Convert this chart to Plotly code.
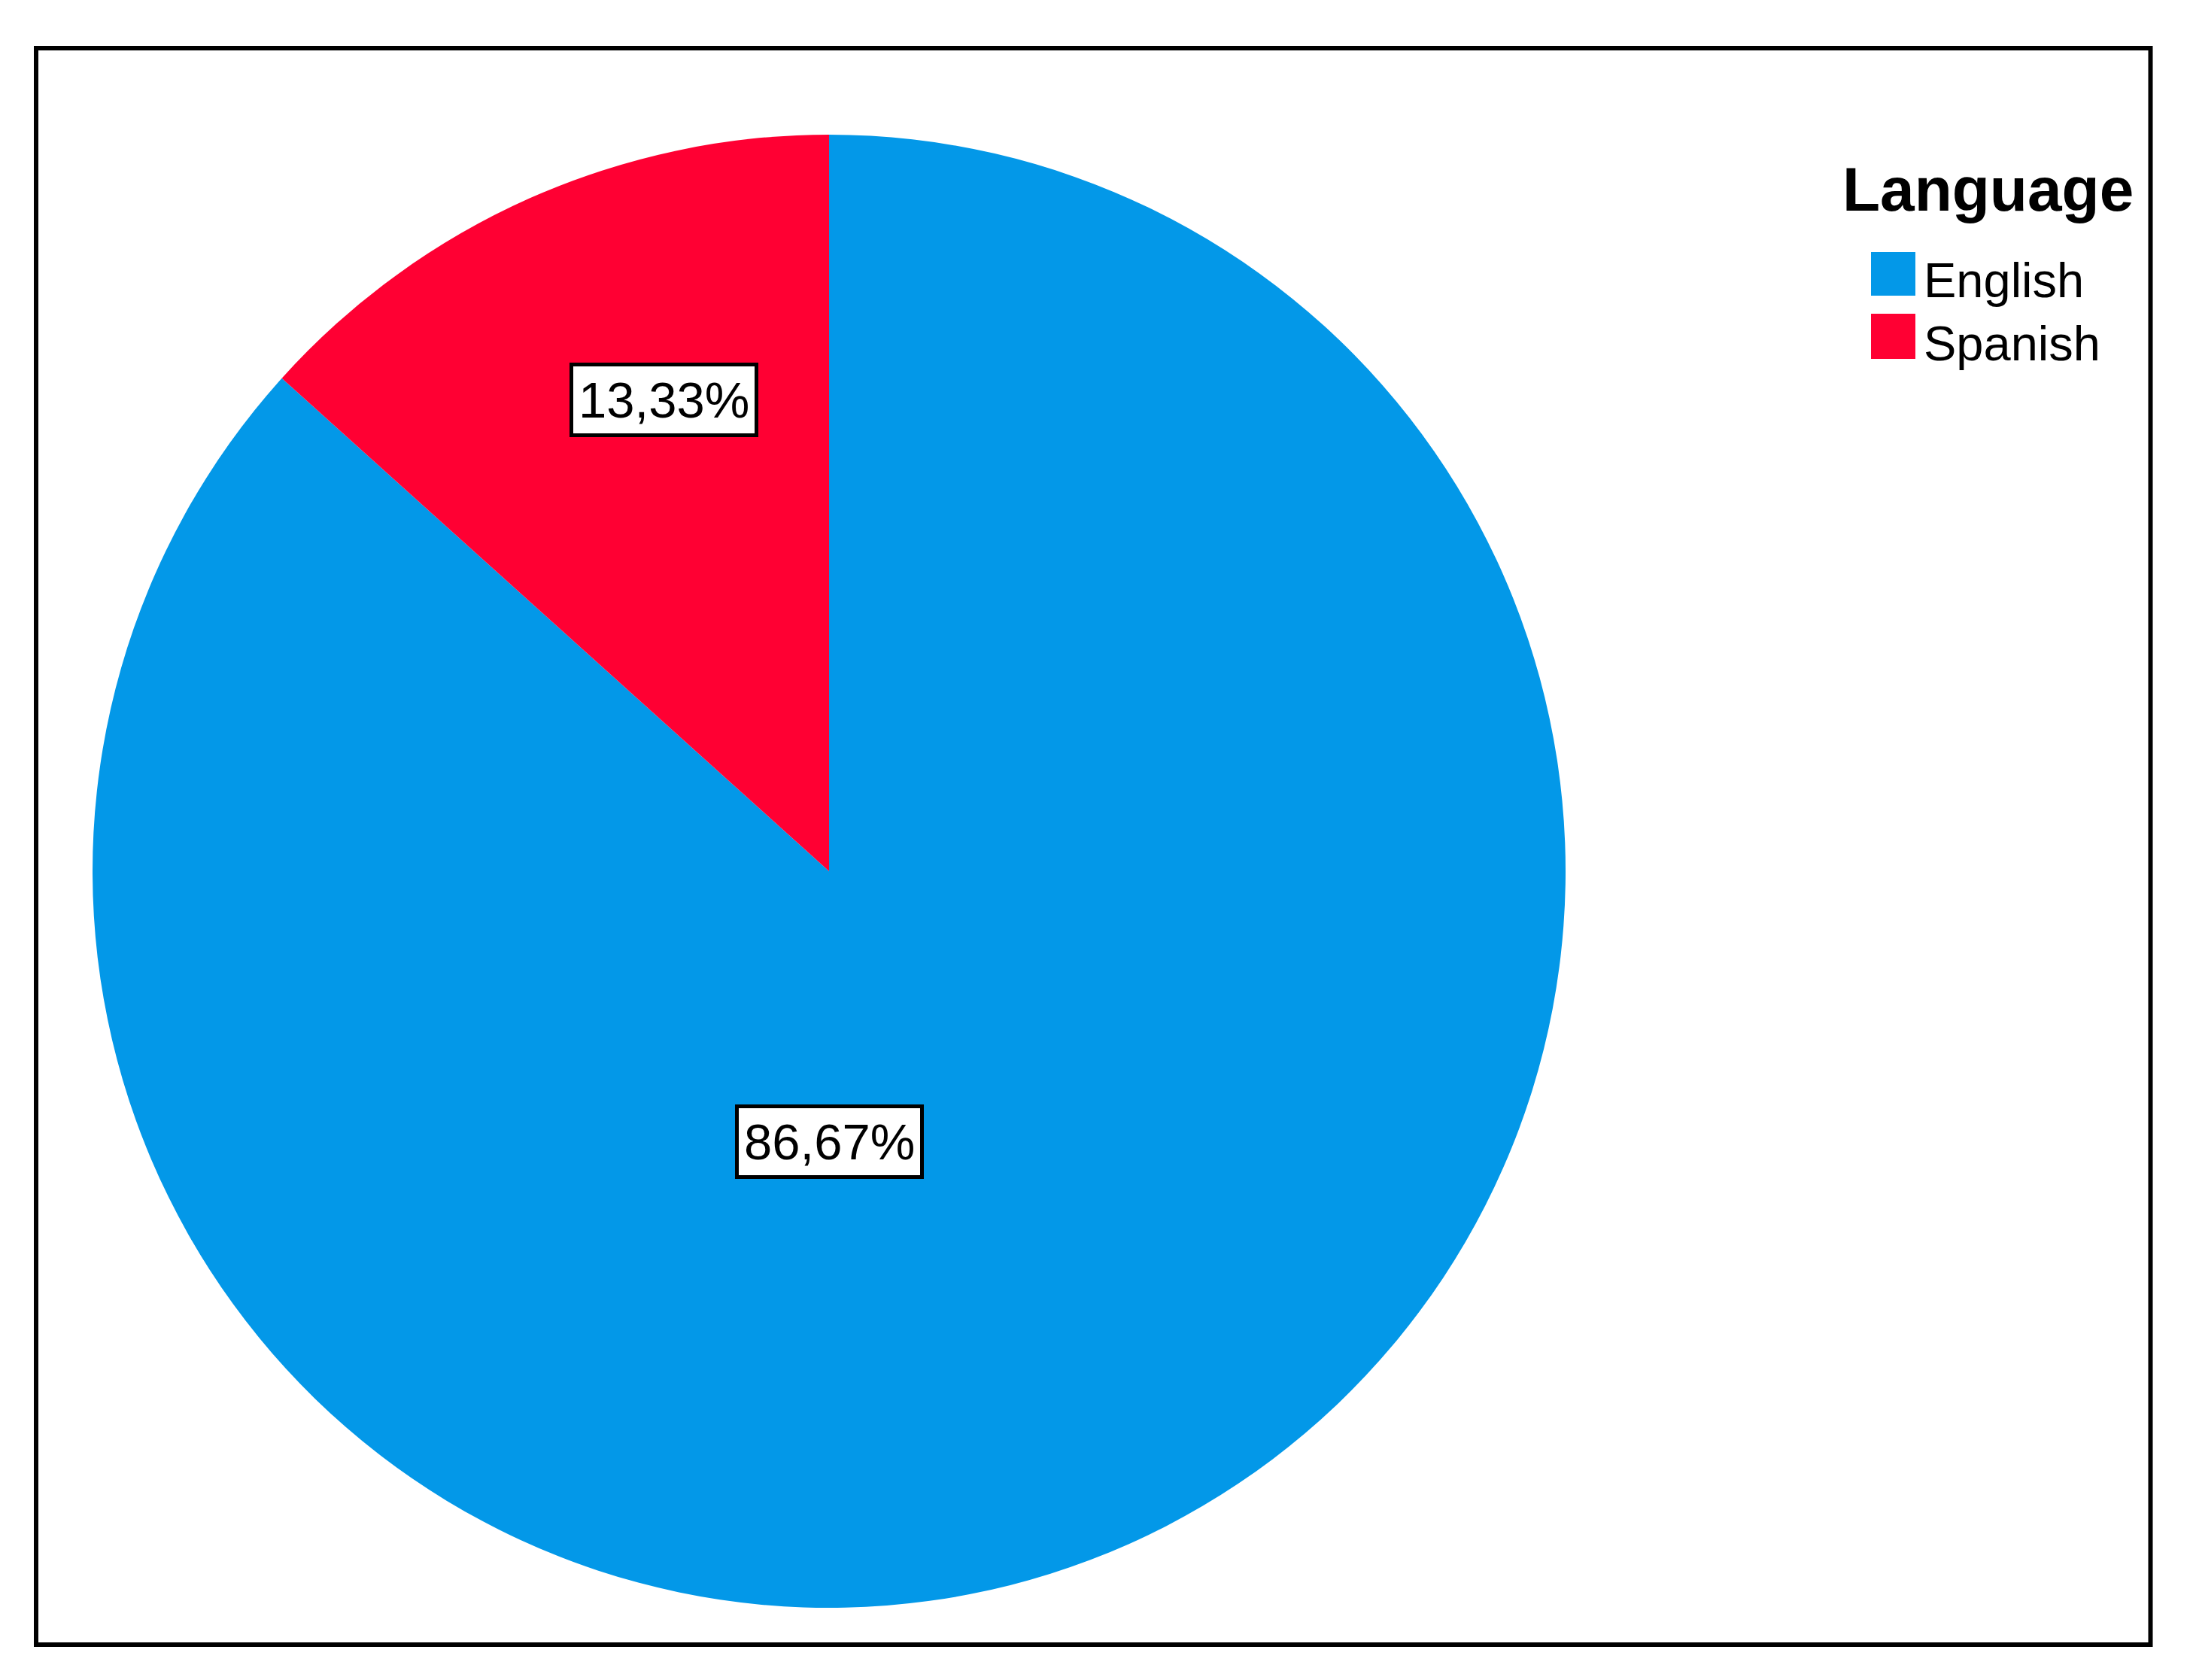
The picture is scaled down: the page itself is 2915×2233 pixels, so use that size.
import plotly.graph_objects as go

# Data
categories = ["English", "Spanish"]
values = [86.67, 13.33]
colors = ["#0398E8", "#FF0033"]
legend_title = "Language"

PAGE_W, PAGE_H = 2915, 2233
OFF = 8  # default page body margin
W, H = PAGE_W - 2 * OFF, PAGE_H - 2 * OFF

def px(x):
    return (x - OFF) / W

def py(y):
    return 1 - (y - OFF) / H

cx, cy, r = 1102, 1158, 979

fig = go.Figure()
fig.add_trace(go.Pie(
    labels=categories,
    values=values,
    sort=False,
    direction="clockwise",
    rotation=0,
    marker=dict(colors=colors, line=dict(width=0)),
    textinfo="none",
    hoverinfo="skip",
    showlegend=False,
    domain=dict(x=[px(cx - r), px(cx + r)], y=[py(cy + r), py(cy - r)]),
))

# Value label boxes (layout positions)
label_pos = [(1102, 1517), (882, 531)]
annotations = []
for v, (lx, ly) in zip(values, label_pos):
    annotations.append(dict(
        x=px(lx), y=py(ly), xref="paper", yref="paper",
        xanchor="center", yanchor="middle",
        text=f"{v:.2f}%".replace(".", ","),
        showarrow=False,
        font=dict(family="Liberation Sans, Arial, sans-serif", size=67, color="black"),
        bgcolor="white", bordercolor="black", borderwidth=5, borderpad=7,
    ))

# Legend title
annotations.append(dict(
    x=px(2447), y=py(251), xref="paper", yref="paper",
    xanchor="left", yanchor="middle",
    text=f"<b>{legend_title}</b>", showarrow=False,
    font=dict(family="Liberation Sans, Arial, sans-serif", size=82, color="black"),
))

shapes = []
sw_x0, sw_x1 = 2487, 2546
row_y = [(335, 393), (417, 477)]
for cat, col, (y0, y1) in zip(categories, colors, row_y):
    shapes.append(dict(type="rect", xref="paper", yref="paper",
                       x0=px(sw_x0), x1=px(sw_x1), y0=py(y1), y1=py(y0),
                       fillcolor=col, line=dict(width=0)))
    annotations.append(dict(
        x=px(2555), y=py((y0 + y1) / 2 + 9), xref="paper", yref="paper",
        xanchor="left", yanchor="middle", text=cat, showarrow=False,
        font=dict(family="Liberation Sans, Arial, sans-serif", size=65, color="black"),
    ))

# Outer frame
shapes.append(dict(type="rect", xref="paper", yref="paper",
                   x0=px(48), x1=px(2858.5), y0=py(2186), y1=py(64),
                   line=dict(color="black", width=6), fillcolor="rgba(0,0,0,0)"))

fig.update_layout(
    width=W, height=H,
    margin=dict(l=0, r=0, t=0, b=0),
    paper_bgcolor="white", plot_bgcolor="white",
    shapes=shapes, annotations=annotations,
)

fig.write_html("out.html")
